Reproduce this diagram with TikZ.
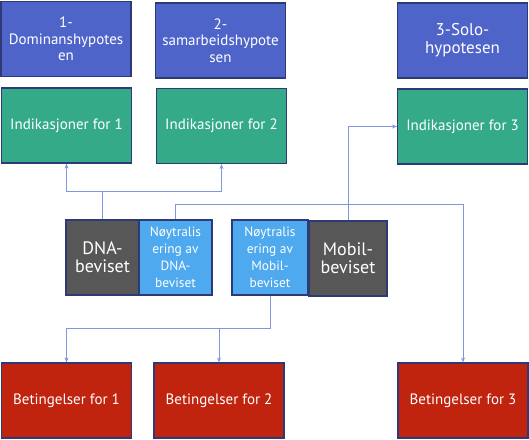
\documentclass[tikz,border=0pt]{standalone}
\usepackage{fontspec}
\setmainfont{PT Sans}
\usepackage{tikz}
\usetikzlibrary{arrows.meta, positioning}
\usepackage{xcolor}
\definecolor{hblue}{RGB}{79, 100, 201}
\definecolor{igreen}{RGB}{52, 170, 137}
\definecolor{bgray}{RGB}{87, 87, 87}
\definecolor{nblue}{RGB}{78, 169, 238}
\definecolor{bred}{RGB}{192, 35, 14}
\definecolor{edge}{RGB}{46, 58, 118}
\definecolor{wire}{RGB}{128, 150, 224}

\begin{document}
\begin{tikzpicture}[
  x=1pt, y=-1pt,
  box/.style={rectangle, draw=edge, line width=1.1pt, fill=#1, text=white,
              minimum width=130pt, minimum height=75pt, align=center,
              inner sep=1pt, font=\fontsize{15}{16.5}\selectfont},
  ev/.style={box=#1, minimum width=73pt},
  arr/.style={-{Stealth[length=5pt, width=4pt]}, wire, line width=1pt},
  wr/.style={wire, line width=1pt}
]
\useasboundingbox (0,0) rectangle (529,439);

% hypoteser
\node[box=hblue] (hyp1) at (66,39)    {1-\\Dominanshypotes\\en};
\node[box=hblue] (hyp2) at (220.5,40.5) {2-\\samarbeidshypote\\sen};
\node[box=hblue, font=\fontsize{17}{18}\selectfont] (hyp3) at (462.5,40.5) {3-Solo-\\hypotesen};

% indikasjoner
\node[box=igreen] (ind1) at (66.5,125.5) {Indikasjoner for 1};
\node[box=igreen] (ind2) at (221.5,126)  {Indikasjoner for 2};
\node[box=igreen] (ind3) at (462.5,126.5) {Indikasjoner for 3};

% bevis
\node[ev=bgray, font=\fontsize{18}{18}\selectfont] (dna)  at (102.5,257.5) {DNA-\\beviset};
\node[ev=nblue, font=\fontsize{13.4}{17}\selectfont] (ndna) at (175.5,257.5) {Nøytralis\\ering av\\DNA-\\beviset};
\node[ev=nblue, minimum width=76pt, font=\fontsize{13.4}{17}\selectfont] (nmob) at (270,257.5) {Nøytralis\\ering av\\Mobil-\\beviset};
\node[ev=bgray, minimum width=78pt, font=\fontsize{18}{18}\selectfont] (mob) at (348,258.5) {Mobil-\\beviset};

% betingelser
\node[box=bred] (bet1) at (66.5,400.5) {Betingelser for 1};
\node[box=bred] (bet2) at (219,400.5)  {Betingelser for 2};
\node[box=bred] (bet3) at (463,400.5)  {Betingelser for 3};

% koblinger
\coordinate (jdna) at (102.5,191);
\coordinate (jndna) at (175.5,204);
\coordinate (jmob) at (270,328.5);

\draw[wr] (dna.north) -- (jdna);
\draw[arr] (jdna) -| (ind1.south);
\draw[arr] (jdna) -| (ind2.south);
\draw[arr] (ndna.north) -- (jndna) -| (bet3.north);
\draw[arr] (mob.north) |- (ind3.west);
\draw[wr] (nmob.south) -- (jmob);
\draw[arr] (jmob) -| (bet1.north);
\draw[arr] (jmob) -| (bet2.north);
\end{tikzpicture}
\end{document}
